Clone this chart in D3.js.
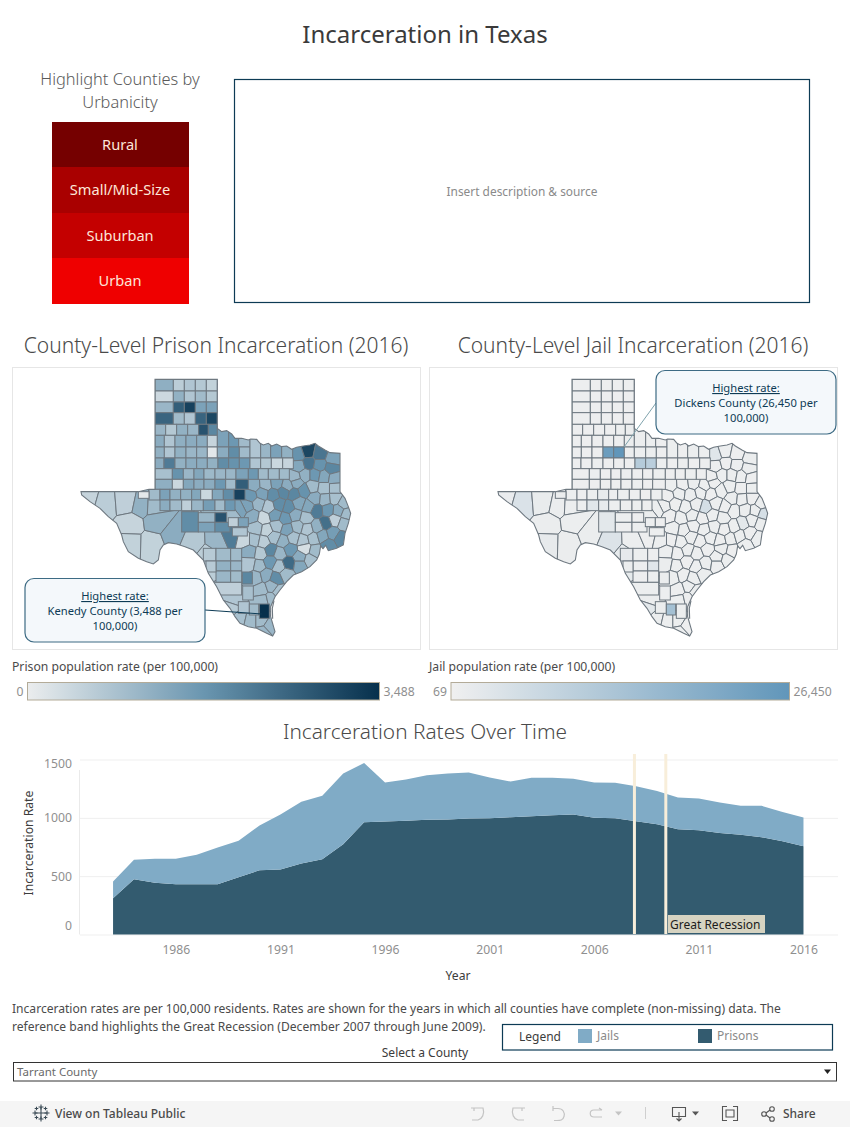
<!DOCTYPE html>
<html><head><meta charset="utf-8">
<script src="https://cdn.jsdelivr.net/npm/d3@7/dist/d3.min.js"></script>
<style>
html,body{margin:0;padding:0;background:#fff;overflow:hidden}
text{font-family:"Noto Sans",sans-serif}
</style></head><body><svg id="page" width="850" height="1127"></svg>
<script>
// ---- Urbanicity filter ----
const urbanicityLabels = ["Rural","Small/Mid-Size","Suburban","Urban"];
const urbanicityColors = ["#750000","#a90000","#c40000","#ef0000"];

// ---- Rates over time (per 100,000) ----
const years = d3.range(1983,2017);
const prisonSeries = [311,474,443,431,431,431,491,551,557,609,646,774,963,969,974,983,986,994,997,1006,1014,1023,1029,1000,997,971,946,903,894,869,854,834,800,757];
const jailSeries = [143,166,206,218,252,315,312,383,472,528,543,606,508,334,355,383,394,395,349,305,329,320,305,303,303,300,283,271,272,262,249,269,251,246];
const yearTicks = [1986,1991,1996,2001,2006,2011,2016];
const rateTicks = [0,500,1000,1500];
const recessionYears = [2007.92,2009.42];

// ---- Texas geometry, in planar map units ----
const texasOutline = [[465,58],[652,58],[652,205],[665,215],[680,212],[695,222],[705,235],[725,235],[745,240],[752,237],[770,238],[780,250],[790,255],[805,250],[815,258],[830,252],[845,260],[860,258],[875,268],[890,262],[910,258],[930,255],[945,250],[955,258],[975,270],[990,278],[1020,280],[1020,395],[1035,415],[1045,440],[1052,460],[1045,490],[1035,520],[1030,555],[1010,565],[985,572],[977,556],[969,566],[962,558],[958,582],[950,600],[930,620],[905,635],[880,645],[860,665],[840,690],[825,710],[812,740],[812,770],[825,815],[818,828],[800,820],[770,805],[745,800],[720,790],[705,770],[690,745],[670,720],[650,680],[625,640],[610,600],[580,570],[555,560],[530,552],[505,548],[490,555],[480,570],[475,600],[460,612],[440,605],[415,595],[385,575],[370,545],[365,525],[350,490],[325,470],[300,445],[270,425],[245,405],[243,395],[415,395],[447,388],[465,388]];
const barrierIsland = [[822,722],[817,745],[818,776]];

// Surveyed rectangular counties: one row per latitude band
const rowTop    = [58,93,126,158,193,226,261,200,261,235,294,326,358,388,395,420,455,458,487,473,503,565,603,633,603,667,636,678,725,732,732];
const rowBottom = [93,126,158,193,226,261,294,261,294,294,326,358,388,420,415,452,516,487,516,500,528,603,633,667,636,705,672,720,760,765,775];
const rowEdges = [
 [465,520,553,586,619,652],[465,520,553,586,619,652],[465,520,553,586,619,652],[465,520,553,586,619,652],
 [465,497,530,563,596,625,652],[465,493,525,558,590,622,652],[465,493,525,558,590,622,652],
 [652,686,716,750],[652,686,718,750],[750,782,812,845,878],
 [465,492,525,558,590,622,654,686,718,750,782,814,848,880],
 [465,517,550,582,612,645,677,708,745,775,805,838,868],
 [465,517,550,582,612,645,677,707,745],
 [447,480,510,542,575,602,637,670,702,735],[415,447],
 [480,510,545,575,610,645,675,705],[545,595],[595,645,680],[595,645,690],[685,715,745],[697,742],
 [610,648,692,725],[648,692,725],[648,692,725],[618,648],[640,725],[727,757],[728,760],[715,748],[748,776],[778,808]
];
const rowPrison = [
 [1250,650,800,750,550],[420,1200,800,1000,750],[1100,2700,3200,1500,1500],[2600,1000,800,2600,3100],
 [1100,750,1200,1100,2900,2000],[1300,800,1250,1300,1300,500],[1200,800,1200,1100,1100,120],
 [1500,1700,1000],[1300,1900,1000],[800,1100,1500,1200],
 [1300,2200,1200,1300,1300,1200,1900,1800,1700,800,750,450,500],
 [900,1800,1100,1400,1050,1100,1100,1500,1700,1000,1000,1000],
 [1250,450,1400,1300,1300,1700,1000,2700],
 [1000,1500,1200,1200,1400,450,1400,1900,3200],[100],
 [1300,1000,600,1100,1600,1000,1700],[1900],[1100,2900],[1500,1900],[600,1500],[800],
 [700,1000,1000],[1200,1100],[1100,1000],[700],[600],[2000],[900],[800],[1000],[3488]
];
const rowJail = [
 [700,600,650,600,700],[650,700,600,650,700],[600,700,650,600,650],[700,650,700,600,650],
 [600,700,650,700,800,900],[650,700,600,650,700,900],[700,650,700,24500,26450,900],
 [900,800,700],[800,900,700],[800,700,900,800],
 [700,650,800,700,650,600,11000,10000,800,700,900,700,800],
 [700,800,650,700,800,650,700,800,700,650,800,700],
 [650,700,800,650,700,800,700,650],
 [800,700,750,1500,700,800,650,700,800],[900],
 [800,3000,1500,800,700,800,700],[2500],[800,700],[700,800],[800,700],[800],
 [2000,800,700],[800,3000],[700,800],[900],[800],[900],[800],[1000],[14000],[800]
];

// Irregular counties: Voronoi sites with their rates
const siteX = [262,315,378,425,462,392,390,455,470,520,575,625,655,690,735,
 895,925,958,1000,897,927,958,995,885,915,945,972,1003,938,972,1005,945,975,1005,1032,950,985,1015,1040,
 762,797,830,862,890,
 752,787,820,852,882,912,
 742,775,806,838,866,897,925,
 722,700,758,792,825,856,886,918,
 770,800,830,862,892,922,952,978,1005,1032,
 762,792,822,850,880,910,940,968,998,1022,
 750,782,812,840,870,900,915,945,985,
 748,778,810,838,866,900,930,
 768,798,828,858,
 785,815,835,790,812,
 700,690,720,750,785,805,790];
const siteY = [415,430,425,435,437,495,548,550,485,525,548,590,545,530,540,
 285,275,282,297,318,310,315,325,352,345,345,350,355,380,385,385,415,418,415,430,452,450,452,462,
 376,374,370,378,368,
 408,400,404,396,402,392,
 438,432,442,434,442,430,440,
 448,465,468,474,466,476,466,474,
 505,510,498,508,500,508,500,490,480,490,
 540,546,532,544,534,542,536,528,520,535,
 575,580,570,580,568,592,565,572,555,
 612,618,606,620,610,615,600,
 652,645,655,642,
 690,680,695,720,715,
 715,745,778,785,785,798,812];
const sitePrison = [500,650,600,1200,1000,500,550,550,1200,1300,750,650,1100,2200,450,
 1800,3100,2300,1500,1400,2300,1800,2000,1100,1200,1700,1400,1300,1000,900,900,1300,1100,900,1000,2200,1700,1300,1000,
 1300,1100,1500,1300,1300,
 1700,1500,1900,2000,2000,1800,
 1500,1100,800,1900,1900,1400,1400,
 1500,1000,1300,450,1600,1700,1300,900,
 900,550,900,1500,1000,800,1200,2400,600,1000,
 900,650,900,1200,900,800,900,1400,1600,2000,
 1300,750,2000,1100,1700,1300,300,1000,1900,
 800,1000,1700,900,2500,1400,900,
 1100,1300,1900,1000,
 1000,1100,900,1000,1000,
 800,700,900,1000,1000,1100,1100];
const siteJail = [1100,4200,1300,900,800,900,1800,1000,800,900,3800,1900,800,700,800,
 3000,800,700,900,800,700,800,900,700,800,900,800,700,800,700,800,900,800,700,1000,800,900,1000,5000,
 800,700,900,800,700,
 700,800,900,800,700,800,
 800,700,800,900,5200,800,700,
 800,900,700,800,900,700,800,900,
 800,900,700,800,900,700,800,2500,800,900,
 700,800,900,700,800,700,900,800,700,800,
 800,700,900,800,700,800,900,700,800,
 900,800,700,800,900,700,800,
 800,700,800,900,
 700,800,900,800,700,
 1000,2500,900,800,800,700,800];

// Colour ramps for the two rate measures
const prisonColor = d3.scaleLinear().domain([0,1744,3488]).range(["#ebedee","#6a96b0","#06304c"]);
const jailColor = d3.scaleLinear().domain([69,26450]).range(["#f0f0f0","#6196ba"]);

const svg = d3.select("#page");
const softInk = "#8f8f8f", navy = "#0d3b55";

function label(g,x,y,txt,size,fill,anchor,weight){
  return g.append("text").attr("x",x).attr("y",y).attr("font-size",size).attr("fill",fill)
    .attr("text-anchor",anchor||"start").attr("font-weight",weight||400).text(txt);
}

// ---- Header ----
label(svg,425,43,"Incarceration in Texas",24,"#3a3a3a","middle");
label(svg,120,85,"Highlight Counties by",16.4,"#5a5a5a","middle",300);
label(svg,120,108,"Urbanicity",16.4,"#5a5a5a","middle",300);

const buttonY = d3.scaleBand().domain(urbanicityLabels).range([122,303]);
svg.append("g").attr("shape-rendering","crispEdges").selectAll("rect").data(urbanicityLabels).join("rect")
  .attr("x",52).attr("width",137).attr("y",d=>buttonY(d)).attr("height",buttonY.bandwidth()+.5)
  .attr("fill",(d,i)=>urbanicityColors[i]);
svg.append("g").selectAll("text").data(urbanicityLabels).join("text")
  .attr("x",120).attr("y",d=>buttonY(d)+buttonY.bandwidth()/2+5.5).attr("text-anchor","middle")
  .attr("font-size",14.6).attr("fill","#fde6d8").text(d=>d);

svg.append("rect").attr("x",234.5).attr("y",79.5).attr("width",575).attr("height",223)
  .attr("fill","#fff").attr("stroke",navy).attr("stroke-width",1.2);
label(svg,522,196,"Insert description & source",11.9,"#8a8a8a","middle");

label(svg,216,353,"County-Level Prison Incarceration (2016)",21,"#4a4a4a","middle",300);
label(svg,633,353,"County-Level Jail Incarceration (2016)",21,"#4a4a4a","middle",300);

// ---- Choropleth panels ----
const sites = siteX.map((x,i)=>[x,siteY[i]]);
const voronoi = d3.Delaunay.from(sites).voronoi([200,30,1100,860]);

function drawMap(cfg){
  const g = svg.append("g");
  g.append("rect").attr("x",cfg.panelX+.5).attr("y",367.5).attr("width",408).attr("height",282)
    .attr("fill","#fff").attr("stroke","#e6e6e6");
  const x = d3.scaleLinear().domain([243,1051]).range([cfg.mapX,cfg.mapX+269.33]);
  const y = d3.scaleLinear().domain([58,828]).range([379.33,636]);
  const line = d3.line().x(d=>x(d[0])).y(d=>y(d[1]));
  const clipId = "clip-"+cfg.key;
  g.append("clipPath").attr("id",clipId).append("path").attr("d",line(texasOutline)+"Z");
  const counties = g.append("g").attr("clip-path",`url(#${clipId})`)
    .attr("stroke","#6e7880").attr("stroke-width",1);
  counties.selectAll("path.site").data(sites).join("path").attr("class","site")
    .attr("d",(d,i)=>line(voronoi.cellPolygon(i)))
    .attr("fill",(d,i)=>cfg.color(cfg.siteValues[i]));
  rowEdges.forEach((edges,r)=>{
    const cells = d3.pairs(edges).map((p,i)=>({x0:p[0],x1:p[1],v:cfg.rowValues[r][i]}));
    counties.append("g").selectAll("rect").data(cells).join("rect")
      .attr("x",d=>x(d.x0)).attr("width",d=>x(d.x1)-x(d.x0))
      .attr("y",y(rowTop[r])).attr("height",y(rowBottom[r])-y(rowTop[r]))
      .attr("fill",d=>cfg.color(d.v));
  });
  g.append("path").attr("d",line(texasOutline)+"Z").attr("fill","none").attr("stroke","#6e7880").attr("stroke-width",1.1);
  g.append("path").attr("d",line(barrierIsland)).attr("fill","none").attr("stroke","#6e7880").attr("stroke-width",1.1);

  // Callout for the county with the highest rate
  const c = cfg.callout;
  g.append("line").attr("x1",c.lineFrom[0]).attr("y1",c.lineFrom[1]).attr("x2",c.lineTo[0]).attr("y2",c.lineTo[1])
    .attr("stroke",c.lineColor).attr("stroke-width",1);
  g.append("rect").attr("x",c.x).attr("y",c.y).attr("width",180).attr("height",63.5).attr("rx",9)
    .attr("fill","#f4f8fb").attr("stroke","#3d6b84").attr("stroke-width",1.2);
  const cx = c.x+90;
  label(g,cx,c.y+21.5,"Highest rate:",11.2,navy,"middle").attr("text-decoration","underline");
  label(g,cx,c.y+36.5,c.lines[0],11.2,navy,"middle");
  label(g,cx,c.y+51.5,c.lines[1],11.2,navy,"middle");

  // Colour legend
  label(g,cfg.panelX,671,cfg.legendTitle,12.2,"#4a4a4a");
  const gradId = "grad-"+cfg.key;
  const grad = g.append("linearGradient").attr("id",gradId);
  d3.range(0,1.01,.1).forEach(t=>grad.append("stop").attr("offset",t)
    .attr("stop-color",cfg.color(cfg.domain[0]+t*(cfg.domain[1]-cfg.domain[0]))));
  g.append("rect").attr("x",cfg.barX).attr("y",682.5).attr("width",cfg.barW).attr("height",17.5)
    .attr("fill",`url(#${gradId})`).attr("stroke","#b3ab98");
  label(g,cfg.barX-4,696,cfg.domainLabels[0],12.2,softInk,"end");
  label(g,cfg.barX+cfg.barW+4,696,cfg.domainLabels[1],12.2,softInk);
}

drawMap({key:"prison",panelX:12,mapX:81,color:prisonColor,domain:[0,3488],domainLabels:["0","3,488"],
  siteValues:sitePrison,rowValues:rowPrison,legendTitle:"Prison population rate (per 100,000)",barX:27.5,barW:352,
  callout:{x:25,y:578.5,lines:["Kenedy County (3,488 per","100,000)"],lineFrom:[205,610],lineTo:[262,614],lineColor:navy}});
drawMap({key:"jail",panelX:429,mapX:498,color:jailColor,domain:[69,26450],domainLabels:["69","26,450"],
  siteValues:siteJail,rowValues:rowJail,legendTitle:"Jail population rate (per 100,000)",barX:451,barW:338.5,
  callout:{x:656,y:370.5,lines:["Dickens County (26,450 per","100,000)"],lineFrom:[656,403],lineTo:[624,447],lineColor:"#7fa3ad"}});

// ---- Stacked area chart ----
label(svg,425,739,"Incarceration Rates Over Time",20.8,"#4a4a4a","middle",300);
const xTime = d3.scaleLinear().domain([1981.42,2017.65]).range([80,838]);
const yRate = d3.scaleLinear().domain([0,1500]).range([934.5,759.5]);
const area = svg.append("g");

const yAxis = d3.axisLeft(yRate).tickValues(rateTicks).tickFormat(d3.format("d")).tickSize(0).tickPadding(8);
const yG = area.append("g").attr("transform","translate(80,0)").call(yAxis);
yG.select(".domain").remove();
yG.selectAll("text").attr("font-size",12.2).attr("fill",softInk).attr("font-family","'Noto Sans',sans-serif")
  .attr("dy",d=>d===1500?"0.65em":d===0?"-0.45em":"0.32em");
area.append("g").selectAll("line").data(rateTicks).join("line")
  .attr("x1",80).attr("x2",838).attr("y1",d=>yRate(d)+.5).attr("y2",d=>yRate(d)+.5)
  .attr("stroke","#efefef");
area.append("line").attr("x1",79.5).attr("x2",79.5).attr("y1",770).attr("y2",934.5).attr("stroke","#eaeaea");

const stackRows = years.map((yr,i)=>({year:yr,Prisons:prisonSeries[i],Jails:jailSeries[i]}));
const layers = d3.stack().keys(["Prisons","Jails"])(stackRows);
const areaGen = d3.area().x(d=>xTime(d.data.year)).y0(d=>yRate(d[0])).y1(d=>yRate(d[1]));
const areaColors = {Prisons:"#335b6f",Jails:"#80abc6"};
area.append("g").selectAll("path").data(layers).join("path").attr("d",areaGen).attr("fill",d=>areaColors[d.key]);

area.append("g").selectAll("line").data(recessionYears).join("line")
  .attr("x1",d=>xTime(d)).attr("x2",d=>xTime(d)).attr("y1",754).attr("y2",934)
  .attr("stroke","#f8eeda").attr("stroke-width",3);
area.append("rect").attr("x",668).attr("y",915).attr("width",97).attr("height",18).attr("fill","#d6d3c1");
label(area,670,929,"Great Recession",12,"#1c1c1c");

const xAxis = d3.axisBottom(xTime).tickValues(yearTicks).tickFormat(d3.format("d")).tickSize(0).tickPadding(0);
const xG = area.append("g").attr("transform","translate(0,945)").call(xAxis);
xG.select(".domain").remove();
xG.selectAll("text").attr("font-size",12.2).attr("fill",softInk).attr("font-family","'Noto Sans',sans-serif");
label(area,458,980,"Year",12.2,"#3c3c3c","middle");
label(area,0,0,"Incarceration Rate",12.2,"#3c3c3c","middle").attr("transform","translate(33,843) rotate(-90)");

// ---- Notes, legend, county selector ----
label(svg,12,1013,"Incarceration rates are per 100,000 residents. Rates are shown for the years in which all counties have complete (non-missing) data. The",12.08,"#4a4a4a");
label(svg,12,1031,"reference band highlights the Great Recession (December 2007 through June 2009).",12.08,"#4a4a4a");

svg.append("rect").attr("x",502.5).attr("y",1024.5).attr("width",330).attr("height",25.5).attr("fill","#fff").attr("stroke",navy).attr("stroke-width",1.2);
label(svg,519,1041,"Legend",12,"#3c3c3c");
const legendSeries = ["Jails","Prisons"];
const legendX = d3.scalePoint().domain(legendSeries).range([578,698]);
svg.append("g").selectAll("rect").data(legendSeries).join("rect")
  .attr("x",d=>legendX(d)).attr("y",1029).attr("width",14).attr("height",14).attr("fill",d=>areaColors[d]);
svg.append("g").selectAll("text").data(legendSeries).join("text")
  .attr("x",d=>legendX(d)+19).attr("y",1040).attr("font-size",12).attr("fill","#8a8a8a").text(d=>d);

label(svg,425,1057,"Select a County",12,"#3c3c3c","middle");
svg.append("rect").attr("x",13.5).attr("y",1062.5).attr("width",823).attr("height",18.5).attr("fill","#fff").attr("stroke","#333");
label(svg,17,1076,"Tarrant County",11.5,"#6a6a6a");
svg.append("path").attr("d","M824 1069.5h7l-3.5 4.5z").attr("fill","#222");

// ---- Viewer toolbar ----
const bar = svg.append("g");
bar.append("rect").attr("x",0).attr("y",1101).attr("width",850).attr("height",26).attr("fill","#f5f5f5");
const logo = bar.append("g").attr("stroke","#3a4a55").attr("stroke-width",1.1).attr("fill","none");
[[41,1113,6],[35,1113,2.5],[47,1113,2.5],[41,1107,2.5],[41,1119,2.5],[36.5,1108.5,1.8],[45.5,1108.5,1.8],[36.5,1117.5,1.8],[45.5,1117.5,1.8]]
  .forEach(c=>logo.append("path").attr("d",`M${c[0]-c[2]} ${c[1]}h${2*c[2]}M${c[0]} ${c[1]-c[2]}v${2*c[2]}`));
label(bar,55,1118,"View on Tableau Public",12,"#4a4a4a","start",500);
const faint = bar.append("g").attr("fill","none").attr("stroke","#c4c4c4").attr("stroke-width",1.2);
faint.append("path").attr("d","M471 1108h3v3M471 1108c1 0 10 0 12 0 2 6-1 11-5 12h-6");
faint.append("path").attr("d","M525 1108h-3v3M525 1108c-1 0-10 0-12 0-2 6 1 11 5 12h6");
faint.append("path").attr("d","M553 1106v5M553 1108.5h5c5 0 7 4 6 8s-4 4-7 4h-3");
faint.append("path").attr("d","M602 1110h-8c-5 0-5 7 0 7h8M602 1110l-3-2");
bar.append("path").attr("d","M615 1111.5h7l-3.5 4z").attr("fill","#c4c4c4");
bar.append("line").attr("x1",645.5).attr("x2",645.5).attr("y1",1107).attr("y2",1119).attr("stroke","#cfcfcf");
const dark = bar.append("g").attr("fill","none").attr("stroke","#555").attr("stroke-width",1.1);
dark.append("path").attr("d","M672.5 1107.5h13v9h-13zM679 1112v9M676.5 1118.5l2.5 2.5 2.5-2.5");
bar.append("path").attr("d","M692 1111.5h7l-3.5 4z").attr("fill","#555");
dark.append("path").attr("d","M727 1106.5h-4.5v14h4.5M733 1106.5h4.5v14h-4.5M726 1110h8v7h-8z");
dark.append("circle").attr("cx",764).attr("cy",1114).attr("r",2.3);
dark.append("circle").attr("cx",772).attr("cy",1109).attr("r",2.3);
dark.append("circle").attr("cx",772).attr("cy",1119).attr("r",2.3);
dark.append("path").attr("d","M766 1113l4-3M766 1115l4 3");
label(bar,783,1118,"Share",12,"#4a4a4a","start",500);
</script></body></html>
